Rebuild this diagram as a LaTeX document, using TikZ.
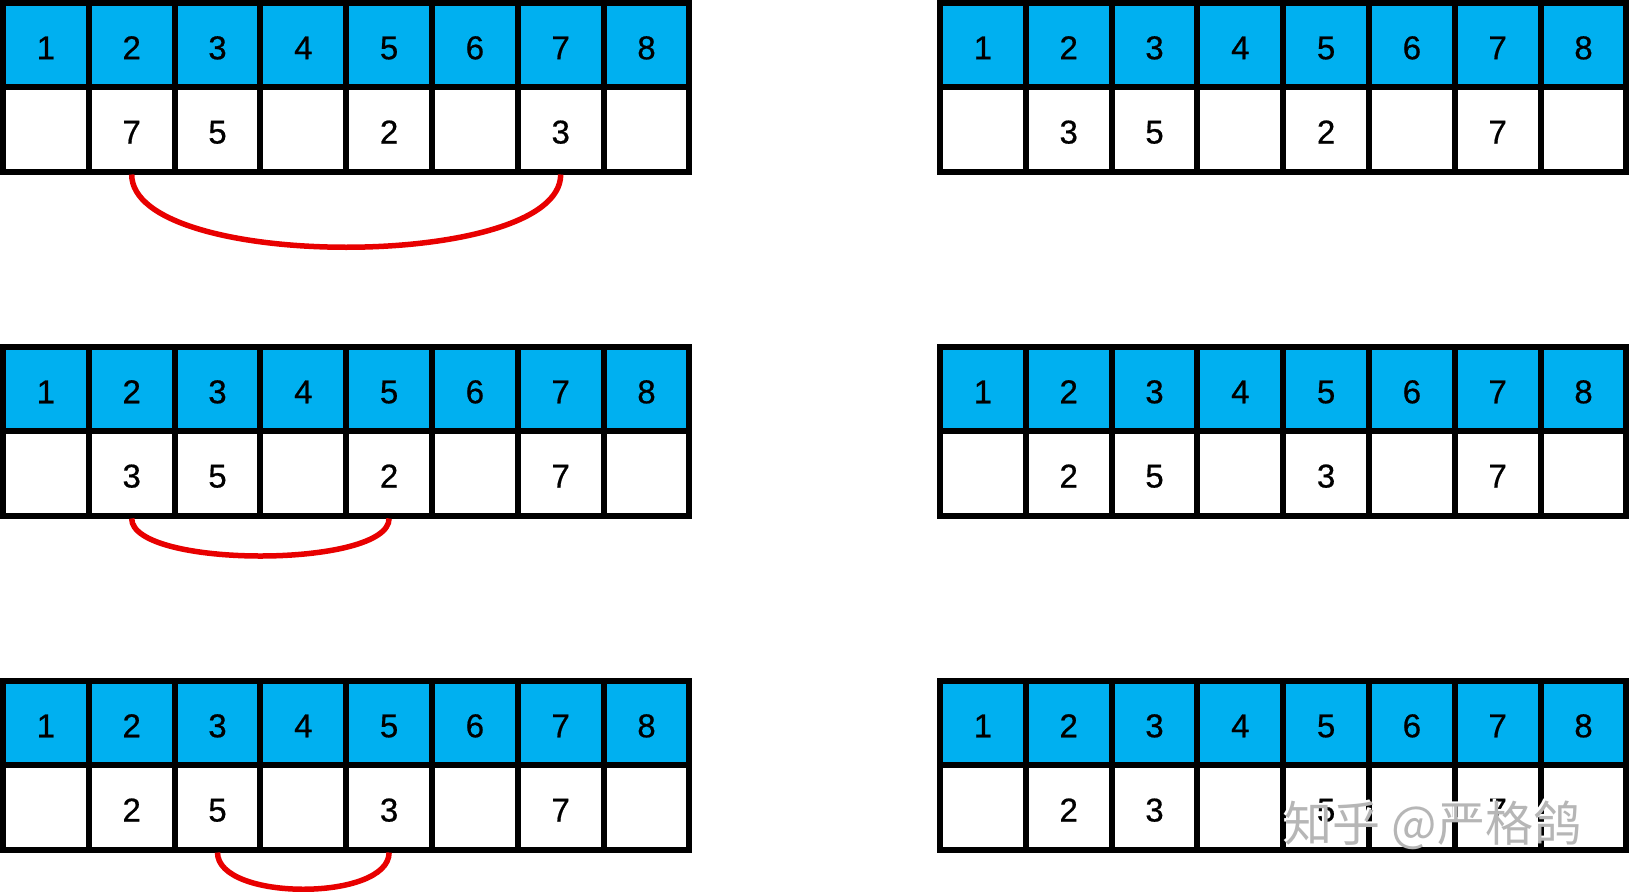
\documentclass[tikz,border=0pt]{standalone}
\usepackage{fontspec}
\setmainfont{Liberation Sans}[FakeBold=0.6]
\newfontfamily\cjkfont{Noto Sans CJK SC}
\definecolor{hdrblue}{RGB}{0,176,240}
\definecolor{arcred}{RGB}{232,0,0}
\definecolor{wmgray}{RGB}{182,182,182}
\newcommand\mkarraytable[4]{%
  \foreach \i in {1,...,8}{%
    \node[hdrcell] (#1-h-\i) at ({#2+85.8*(\i-0.5)},{-(#3+41.75)}) {\i};
  }%
  \foreach \i/\v in {#4}{%
    \node[valcell] (#1-v-\i) at ({#2+85.8*(\i-0.5)},{-(#3+126)}) {\v};
  }%
}
\begin{document}
\begin{tikzpicture}[x=1pt,y=1pt,
  cellbase/.style={draw=black, line width=6pt, inner sep=0pt, minimum width=85.8pt,
    font=\fontsize{33}{33}\selectfont, text=black, text height=29pt, text depth=0pt},
  hdrcell/.style={cellbase, fill=hdrblue, minimum height=83.5pt},
  valcell/.style={cellbase, fill=white, minimum height=85pt},
  swaparc/.style={draw=arcred, line width=5.5pt},
  wmtext/.style={font=\cjkfont\fontsize{48}{48}\selectfont, inner sep=0pt}]
\useasboundingbox (0,0) rectangle (1629,-891);
\fill[white] (0,0) rectangle (1629,-891);
\mkarraytable{A}{3}{3}{1/{},2/7,3/5,4/{},5/2,6/{},7/3,8/{}}
\mkarraytable{B}{940}{3}{1/{},2/3,3/5,4/{},5/2,6/{},7/7,8/{}}
\mkarraytable{C}{3}{347}{1/{},2/3,3/5,4/{},5/2,6/{},7/7,8/{}}
\mkarraytable{D}{940}{347}{1/{},2/2,3/5,4/{},5/3,6/{},7/7,8/{}}
\mkarraytable{E}{3}{681}{1/{},2/2,3/5,4/{},5/3,6/{},7/7,8/{}}
\mkarraytable{F}{940}{681}{1/{},2/2,3/3,4/{},5/5,6/{},7/7,8/{}}
\draw[swaparc] (A-v-2.south) .. controls +(0,-97) and +(0,-97) .. (A-v-7.south);
\draw[swaparc] (C-v-2.south) .. controls +(0,-50) and +(0,-50) .. (C-v-5.south);
\draw[swaparc] (E-v-3.south) .. controls +(0,-49) and +(0,-49) .. (E-v-5.south);
\node[wmtext, text=white] (wmshadow) at (1431,-823) {知乎 @严格鸽};
\node[wmtext, text=wmgray] (wm) at (1433,-825) {知乎 @严格鸽};
\end{tikzpicture}
\end{document}
